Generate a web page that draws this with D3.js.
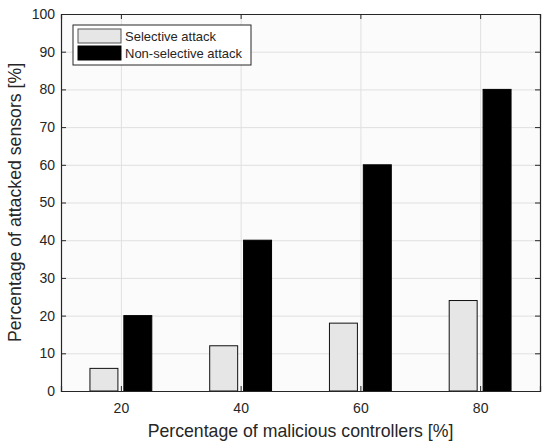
<!DOCTYPE html>
<html lang="en">
  <head>
    <meta charset="UTF-8" />
    <title>attacked sensors</title>
    <style>
      body { margin: 0; background: #fff; }
      text { font-family: "Liberation Sans", Arial, sans-serif; fill: #262626; }
    </style>
  </head>
  <body>
    <svg width="550" height="447"></svg>
    <script src="https://cdn.jsdelivr.net/npm/d3@7"></script>
    <script>
      var categories = [20, 40, 60, 80];
      var selective = [6, 12, 18, 24];
      var nonSelective = [20, 40, 60, 80];
      var yTicks = [0, 10, 20, 30, 40, 50, 60, 70, 80, 90, 100];
      var seriesNames = ["Selective attack", "Non-selective attack"];

      var svg = d3.select("svg");
      var pLeft = 61, pRight = 540, pTop = 14, pBottom = 391;

      var x = d3.scaleLinear().domain([10, 90]).range([pLeft, pRight]);
      var y = d3.scaleLinear().domain([0, 100]).range([pBottom, pTop]);

      // plot background
      svg.append("rect")
        .attr("x", pLeft).attr("y", pTop)
        .attr("width", pRight - pLeft).attr("height", pBottom - pTop)
        .attr("fill", "#fbfbfb");

      // grid
      var grid = svg.append("g").attr("stroke", "#e0e0e0").attr("stroke-width", 1);
      yTicks.slice(1, -1).forEach(function(t) {
        grid.append("line")
          .attr("x1", pLeft).attr("x2", pRight)
          .attr("y1", y(t) + 0.5).attr("y2", y(t) + 0.5);
      });
      categories.forEach(function(c) {
        grid.append("line")
          .attr("x1", x(c) + 0.5).attr("x2", x(c) + 0.5)
          .attr("y1", pTop).attr("y2", pBottom);
      });

      // bars
      var off = 2.83, bw = 4.67;
      var bars = svg.append("g");
      categories.forEach(function(c, i) {
        bars.append("rect")
          .attr("x", x(c - off - bw / 2))
          .attr("y", y(selective[i]))
          .attr("width", x(bw) - x(0))
          .attr("height", y(0) - y(selective[i]))
          .attr("fill", "#e6e6e6").attr("stroke", "#111").attr("stroke-width", 1);
        bars.append("rect")
          .attr("x", x(c + off - bw / 2))
          .attr("y", y(nonSelective[i]))
          .attr("width", x(bw) - x(0))
          .attr("height", y(0) - y(nonSelective[i]))
          .attr("fill", "#000").attr("stroke", "#000").attr("stroke-width", 1);
      });

      // axes
      var xAxis = d3.axisBottom(x).tickValues(categories).tickSize(-5).tickPadding(12);
      var yAxis = d3.axisLeft(y).tickValues(yTicks).tickSize(-5).tickPadding(6);
      var gx = svg.append("g").attr("transform", "translate(0," + pBottom + ")").call(xAxis);
      var gy = svg.append("g").attr("transform", "translate(" + pLeft + ",0)").call(yAxis);
      var gxt = svg.append("g").attr("transform", "translate(0," + pTop + ")")
        .call(d3.axisTop(x).tickValues(categories).tickSize(-5).tickFormat(""));
      var gyr = svg.append("g").attr("transform", "translate(" + pRight + ",0)")
        .call(d3.axisRight(y).tickValues(yTicks).tickSize(-5).tickFormat(""));
      [gx, gy, gxt, gyr].forEach(function(g) {
        g.selectAll("path").attr("stroke", "#262626").attr("stroke-width", 1.2);
        g.selectAll("line").attr("stroke", "#262626");
        g.selectAll("text").style("font-size", "14px").attr("fill", "#262626")
          .style("font-family", "'Liberation Sans', Arial, sans-serif");
      });

      // axis labels
      svg.append("text")
        .attr("x", (pLeft + pRight) / 2).attr("y", 437)
        .attr("text-anchor", "middle").style("font-size", "17.7px")
        .text("Percentage of malicious controllers [%]");
      svg.append("text")
        .attr("transform", "translate(21," + (pTop + pBottom) / 2 + ") rotate(-90)")
        .attr("text-anchor", "middle").style("font-size", "17.7px")
        .text("Percentage of attacked sensors [%]");

      // legend
      var lg = svg.append("g").attr("transform", "translate(73,25)");
      lg.append("rect").attr("width", 178).attr("height", 40)
        .attr("fill", "#fff").attr("stroke", "#262626").attr("stroke-width", 1);
      var legColors = ["#e6e6e6", "#000"];
      seriesNames.forEach(function(n, i) {
        lg.append("rect")
          .attr("x", 5).attr("y", 4 + i * 17)
          .attr("width", 43).attr("height", 14)
          .attr("fill", legColors[i]).attr("stroke", i ? "#000" : "#555").attr("stroke-width", 1);
        lg.append("text")
          .attr("x", 52).attr("y", 16 + i * 17)
          .style("font-size", "13px")
          .text(n);
      });
    </script>
  </body>
</html>
